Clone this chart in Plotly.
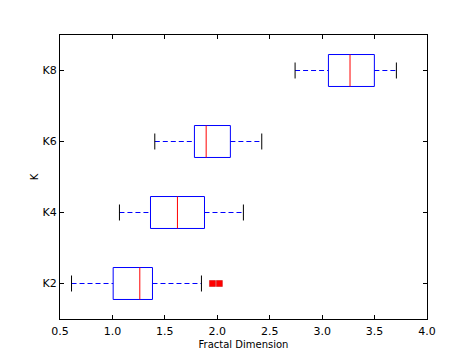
import plotly.graph_objects as go

categories = ["K2", "K4", "K6", "K8"]
positions = [1, 2, 3, 4]
whisker_low = [0.61, 1.067, 1.404, 2.742]
q1 = [1.007, 1.363, 1.782, 3.060]
median = [1.261, 1.620, 1.894, 3.266]
q3 = [1.382, 1.878, 2.125, 3.498]
whisker_high = [1.849, 2.249, 2.424, 3.708]
outlier_cat = [1, 1]
outlier_vals = [1.954, 2.02]
x_ticks = [0.5, 1.0, 1.5, 2.0, 2.5, 3.0, 3.5, 4.0]
x_ticktext = ["0.5", "1.0", "1.5", "2.0", "2.5", "3.0", "3.5", "4.0"]

box_half = 0.225
cap_half = 0.1125

fig = go.Figure()

bx, by, mx, my, wx, wy, cx, cy = [], [], [], [], [], [], [], []
for p, lo, a, m, b, hi in zip(positions, whisker_low, q1, median, q3, whisker_high):
    bx += [a, b, b, a, a, None]
    by += [p - box_half, p - box_half, p + box_half, p + box_half, p - box_half, None]
    mx += [m, m, None]
    my += [p - box_half, p + box_half, None]
    wx += [lo, a, None, b, hi, None]
    wy += [p, p, None, p, p, None]
    cx += [lo, lo, None, hi, hi, None]
    cy += [p - cap_half, p + cap_half, None, p - cap_half, p + cap_half, None]

fig.add_trace(go.Scatter(x=wx, y=wy, mode="lines",
                         line=dict(color="#0000ff", width=1, dash="5px,3px"),
                         hoverinfo="skip"))
fig.add_trace(go.Scatter(x=bx, y=by, mode="lines",
                         line=dict(color="#0000ff", width=1), hoverinfo="skip"))
fig.add_trace(go.Scatter(x=mx, y=my, mode="lines",
                         line=dict(color="#ff0000", width=1), hoverinfo="skip"))
fig.add_trace(go.Scatter(x=cx, y=cy, mode="lines",
                         line=dict(color="black", width=1), hoverinfo="skip"))
fig.add_trace(go.Scatter(x=outlier_vals, y=outlier_cat, mode="markers",
                         marker=dict(symbol="square", color="#ff0000", size=6,
                                     line=dict(color="#cc0000", width=0.5)),
                         hoverinfo="skip"))

fig.update_layout(
    width=466, height=347,
    margin=dict(l=52, r=47, t=27, b=36),
    plot_bgcolor="white", paper_bgcolor="white",
    showlegend=False,
    font=dict(family="DejaVu Sans", size=10, color="black"),
    xaxis=dict(range=[0.5, 4.0], tickvals=x_ticks, ticktext=x_ticktext,
               tickfont=dict(size=11), ticklabelstandoff=2, automargin=False,
               showgrid=False, zeroline=False, showline=True, linecolor="black",
               linewidth=1, mirror="allticks", ticks="inside", ticklen=4,
               tickcolor="black",
               title=dict(text="Fractal Dimension", font=dict(size=10), standoff=3)),
    yaxis=dict(range=[0.5, 4.5], tickvals=positions, ticktext=categories,
               tickfont=dict(size=11), automargin=False,
               showgrid=False, zeroline=False, showline=True, linecolor="black",
               linewidth=1, mirror="allticks", ticks="inside", ticklen=4,
               tickcolor="black",
               title=dict(text="K", font=dict(size=10), standoff=2)),
)

fig.write_html("out.html")
